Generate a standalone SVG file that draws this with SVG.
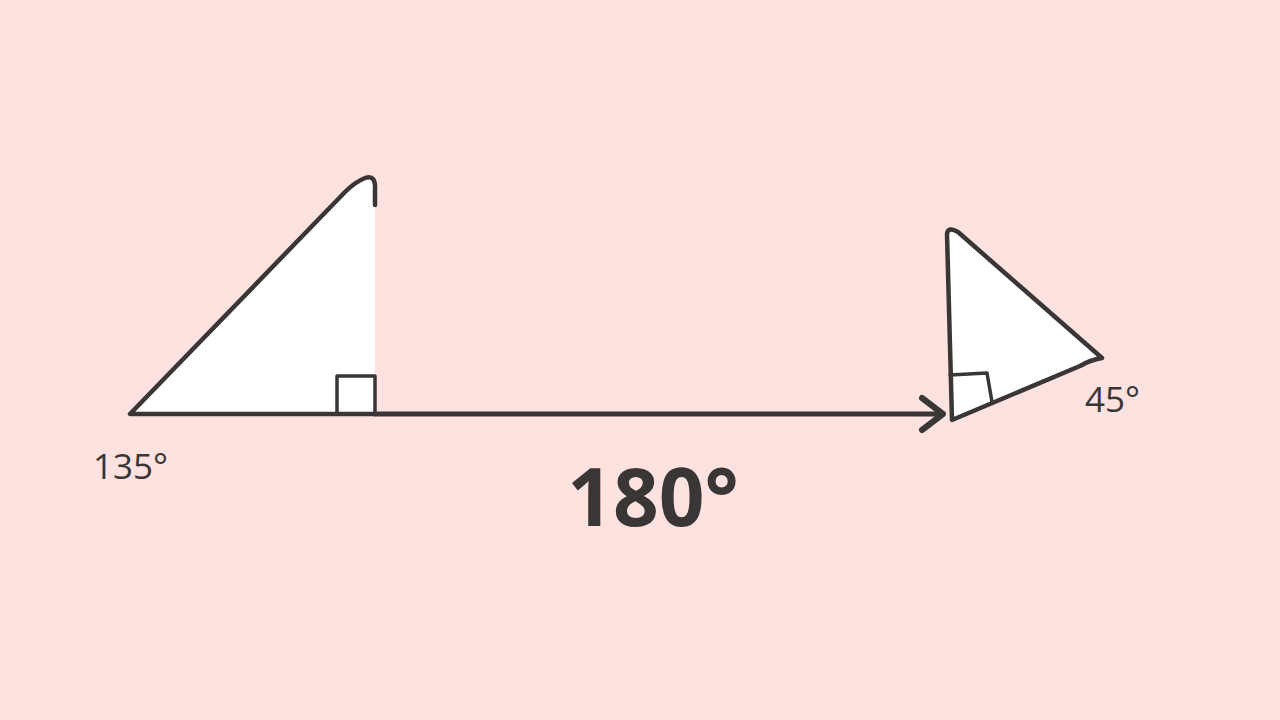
<svg xmlns="http://www.w3.org/2000/svg" width="1280" height="720" viewBox="0 0 1280 720">
<style>
.ln{fill:none;stroke:#3b3636;stroke-width:4.5;stroke-linecap:round;stroke-linejoin:round}
.lbl{font-family:"Open Sans","Liberation Sans",sans-serif;fill:#3b3636}
</style>
<rect width="1280" height="720" fill="#fde2df"/>
<g id="left-triangle">
<path d="M130,414 L375,414 L375,190 Q376,174 365,178 Q355,182 345,192 Z" fill="#fff" stroke="none"/>
<path class="ln" d="M375,205 L375,190 Q376,174 365,178 Q355,182 345,192 L130,414 L375,414"/>
<path class="ln" d="M337,414 L337,376 L375,376 L375,414" style="stroke-width:3.5"/>
</g>
<g id="right-triangle">
<path d="M947,234 Q948,226 958,232 L1102,358 Q1090,360 1080,366 L952,420 Z" fill="#fff" stroke="none"/>
<path class="ln" d="M947,234 Q948,226 958,232 L1102,358 Q1090,360 1080,366 L952,420 Z"/>
<path class="ln" d="M950,375 L987,373 L992,402" style="stroke-width:3.5"/>
</g>
<g id="connectors">
<path class="ln" d="M375,414 L943,414" style="stroke-width:5"/>
<path class="ln" d="M922,398 L943,414 L922,430" style="stroke-width:6"/>
</g>
<text class="lbl" x="93" y="479" font-size="35">135°</text>
<text class="lbl" x="1085" y="412" font-size="35">45°</text>
<text class="lbl" x="653" y="526" font-size="80" font-weight="bold" text-anchor="middle">180°</text>
</svg>
